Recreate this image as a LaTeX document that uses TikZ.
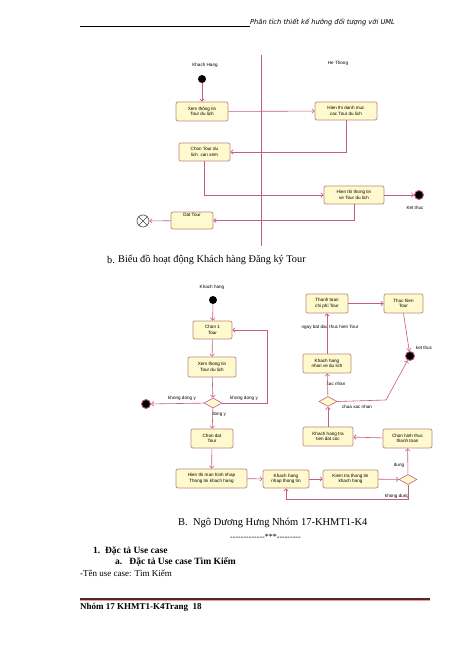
\documentclass[tikz,border=0pt]{standalone}
\usepackage{fontspec}
\setmainfont{Liberation Serif}
\newfontfamily\dfont{Liberation Sans}
\newfontfamily\hfont{DejaVu Sans}
\usetikzlibrary{arrows.meta,shapes.geometric,calc}
\definecolor{boxf}{RGB}{255,250,205}
\definecolor{boxd}{RGB}{190,135,125}
\definecolor{arrc}{RGB}{195,95,130}
\definecolor{foot}{RGB}{95,35,35}
\tikzset{
  act/.style={draw=boxd,fill=boxf,rounded corners=2pt,line width=0.7pt,align=center,
    inner sep=0pt,font=\dfont\fontsize{4.6}{5.4}\selectfont},
  flow/.style={draw=arrc,line width=0.6pt,-{Straight Barb[length=2.4pt,width=4.5pt]}},
  line/.style={draw=arrc,line width=0.6pt},
  lbl/.style={font=\dfont\fontsize{4.6}{5.4}\selectfont,inner sep=0pt},
  startdot/.style={circle,fill=black,minimum size=8pt,inner sep=0pt},
  enddot/.style={circle,draw=arrc,fill=black,line width=0.9pt,minimum size=9pt,inner sep=0pt},
  dec/.style={diamond,draw=arrc,fill=boxf,line width=0.6pt,inner sep=0pt,minimum width=18pt,minimum height=10pt,aspect=1.8},
  txt/.style={inner sep=0pt,anchor=west,font=\fontsize{9}{11}\selectfont}
}
\begin{document}
\begin{tikzpicture}[x=1pt,y=-1pt]
\useasboundingbox[fill=white] (0,0) rectangle (474,652);
% header
\coordinate (h1) at (80,26);
\coordinate (h2) at (250,26);
\draw[line width=0.5pt] (h1) -- (h2);
\node[anchor=base west,inner sep=0pt,font=\hfont\itshape\fontsize{6.7}{8}\selectfont] (head) at (250,25) {Phân tích thiết kế hướng đối tượng với UML};

% ---- diagram 1 ----
\coordinate (sw1) at (261,55);
\coordinate (sw2) at (261,246);
\draw[line,line width=0.7pt] (sw1) -- (sw2);
\node[lbl] (kh) at (205,65) {Khach Hang};
\node[lbl] (ht0) at (338,63) {He Thong};
\node[startdot] (s1) at (202,79) {};
\node[act,minimum width=52pt,minimum height=19pt] (xt1) at (202,111.5) {Xem thông tin\\Tour du lịch};
\node[act,minimum width=62pt,minimum height=18pt] (hd) at (346,111) {Hien thi danh muc\\cac Tour du lich};
\node[act,minimum width=51pt,minimum height=18pt] (ct) at (204.5,152) {Chon Tour du\\lich\ \ can xem};
\node[act,minimum width=60pt,minimum height=18pt] (htt) at (354,195) {Hien thi thong tin\\ve Tour du lich};
\node[act,minimum width=42pt,minimum height=17pt] (dt) at (192,220.5) {Dat Tour\\[5pt]};
\node[enddot] (e1) at (419,195) {};
\node[lbl] (kt1) at (415,208) {Ket thuc};
\node[circle,draw=black!70,line width=0.6pt,minimum size=12pt,inner sep=0pt] (ff) at (143,221) {};
\draw[black!70,line width=0.6pt] (ff.north east) -- (ff.south west) (ff.north west) -- (ff.south east);
\draw[flow] (s1) -- (xt1);
\draw[flow] (xt1) -- (hd);
\draw[flow] (hd.south) |- (ct.east);
\draw[flow] (ct.south) |- (htt.west);
\draw[flow] (htt) -- (e1);
\draw[flow] (htt.south) |- (dt.east);
\draw[flow] (dt) -- (ff);

% caption
\node[txt,font=\fontsize{10.3}{12}\selectfont] (cb) at (107,260) {b.};
\node[txt,font=\fontsize{10.3}{12}\selectfont] (cap) at (118,260) {Biểu đồ hoạt động Khách hàng Đăng ký Tour};

% ---- diagram 2 ----
\node[lbl] (kh2) at (212,287) {Khach hang};
\node[startdot] (s2) at (213,300) {};
\node[act,minimum width=39pt,minimum height=18pt] (c1) at (212.5,330) {Chon 1\\Tour};
\node[act,minimum width=48pt,minimum height=20pt] (xt2) at (212,367) {Xem thong tin\\Tour du lich};
\node[dec] (d1) at (213,403) {};
\node[enddot] (e2) at (146,404) {};
\node[lbl] (kd1) at (182,398) {khong dong y};
\node[lbl] (kd2) at (244,398) {khong dong y};
\node[lbl] (dy) at (219,414) {dong y};
\node[act,minimum width=42pt,minimum height=19pt] (cd) at (212,438.5) {Chon dat\\Tour};
\node[act,minimum width=71pt,minimum height=19pt] (hm) at (211.5,478.5) {Hien thi man hinh nhap\\Thong tin khach hang};
\node[act,minimum width=46pt,minimum height=18pt] (kn) at (286,479) {Khach hang\\nhap thong tin};
\node[act,minimum width=55pt,minimum height=18pt] (kt) at (350.5,479) {Kiem tra thong tin\\khach hang};
\node[dec] (d2) at (408,479.5) {};
\node[lbl] (dung) at (399,465) {dung};
\node[lbl] (kdg) at (397,496) {khong dung};
\node[act,minimum width=49pt,minimum height=19pt] (ch) at (407.5,438.5) {Chon hinh thuc\\thanh toan};
\node[act,minimum width=50pt,minimum height=19pt] (kc) at (328,436.5) {Khach hang tra\\tien dat coc};
\node[dec] (d3) at (328,401.5) {};
\node[lbl] (xn) at (336,384) {xac nhan};
\node[lbl] (cxn) at (357,407) {chua xac nhan};
\node[act,minimum width=48pt,minimum height=19pt] (nv) at (327,363.5) {Khach hang\\nhan ve du lich};
\node[lbl] (nb) at (330,327) {ngay bat dau thuc hien Tour};
\node[act,minimum width=42pt,minimum height=19pt] (tt) at (327,303.5) {Thanh toan\\chi phi Tour};
\node[act,minimum width=39pt,minimum height=19pt] (th) at (403.5,303.5) {Thuc hien\\Tour};
\node[enddot] (e3) at (410,356) {};
\node[lbl] (kt3) at (424,348) {ket thuc};
\coordinate (k1) at (267,403);
\coordinate (k2) at (408,499);
\coordinate (k3) at (386,400);
\draw[flow] (s2) -- (c1);
\draw[flow] (c1) -- (xt2);
\draw[flow] (xt2) -- (d1);
\draw[flow] (d1) -- (e2);
\draw[flow] (d1.east) -- (k1) |- (c1.east);
\draw[flow] (d1) -- (cd);
\draw[flow] (cd) -- (hm);
\draw[flow] (hm) -- (kn);
\draw[flow] (kn) -- (kt);
\draw[flow] (kt) -- (d2);
\draw[flow] (d2) -- (ch);
\draw[flow] (d2.south) -- (k2) -| (kn.south);
\draw[flow] (ch) -- (kc);
\draw[flow] (kc) -- (d3);
\draw[flow] (d3) -- (nv);
\draw[flow] (nv) -- (tt);
\draw[flow] (tt) -- (th);
\draw[flow] (th.south) -- (e3);
\draw[flow] (d3.east) -- (k3) -- (e3);

% ---- text below ----
\node[txt,font=\fontsize{10.5}{12}\selectfont] (bh) at (178,523) {B.\ \ Ngô Dương Hưng Nhóm 17-KHMT1-K4};
\node[txt,font=\fontsize{8}{10}\selectfont] (stars) at (230,537) {-{}-{}-{}-{}-{}-{}-{}-{}-{}-{}-{}-{}-{}*{}*{}*-{}-{}-{}-{}-{}-{}-{}-{}-};
\node[txt,font=\bfseries\fontsize{9.5}{11}\selectfont] (s1t) at (93,551) {1.\ \ Đặc tả Use case};
\node[txt,font=\bfseries\fontsize{9.5}{11}\selectfont] (sat) at (115,562) {a.\ \ \ Đặc tả Use case Tìm Kiếm};
\node[txt] (ten) at (80,573) {-Tên use case: Tìm Kiếm};

% footer
\coordinate (f1) at (80,599);
\coordinate (f2) at (430,599);
\draw[foot,line width=2pt] (f1) -- (f2);
\draw[arrc!60,line width=0.5pt] ($(f1)+(0,1.6)$) -- ($(f2)+(0,1.6)$);
\node[txt,font=\bfseries\fontsize{9}{11}\selectfont] (ft) at (80,607) {Nhóm 17 KHMT1-K4Trang\ \ 18};
\end{tikzpicture}
\end{document}
